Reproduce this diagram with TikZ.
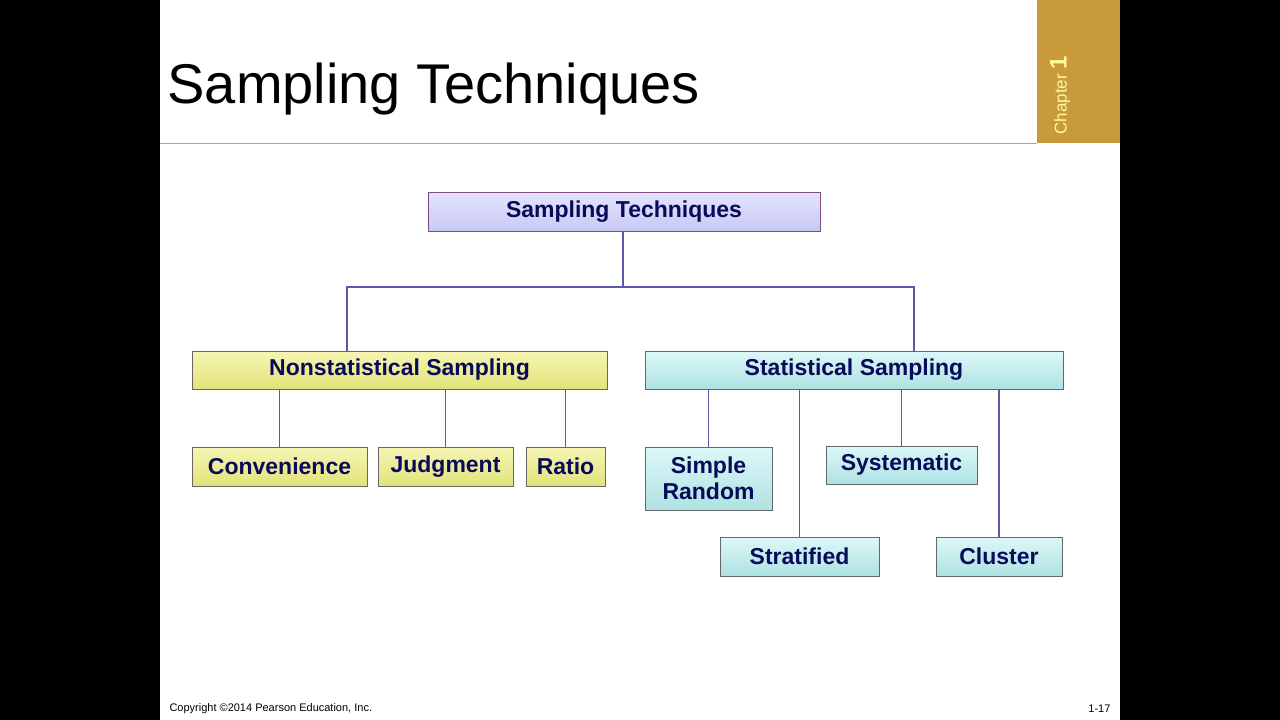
\documentclass[tikz,border=0pt]{standalone}
\usepackage{fontspec}
\setmainfont{Liberation Sans}
\definecolor{navy}{HTML}{0A0A5A}
\definecolor{ln}{HTML}{5A5AA6}
\definecolor{gold}{HTML}{C89A3C}
\definecolor{y1}{HTML}{F6F6B4}
\definecolor{y2}{HTML}{E2E27A}
\definecolor{c1}{HTML}{DDF8F8}
\definecolor{c2}{HTML}{AEE2E2}
\definecolor{p1}{HTML}{E4E4FF}
\definecolor{p2}{HTML}{C8C8F4}
\begin{document}
\begin{tikzpicture}[x=1pt,y=-1pt,
 bx/.style={draw=black!60,line width=1pt,font=\bfseries\fontsize{23}{26}\selectfont,text=navy,align=center,inner sep=0pt},
 yb/.style={bx,top color=y1,bottom color=y2},
 cb/.style={bx,top color=c1,bottom color=c2},
 pb/.style={bx,draw=violet!40!gray,top color=p1,bottom color=p2},
 con/.style={ln,line width=1.8pt}]
\fill[black] (0,0) rectangle (1280,720);
\fill[white] (160,0) rectangle (1120,720);
\fill[gold] (1037,0) rectangle (1120,143);
\draw[black!35,line width=1pt] (160,143) -- (1037,143);
\node[anchor=west,font=\fontsize{56}{60}\selectfont] (title) at (164,89) {Sampling Techniques};
\node[rotate=90,anchor=west,text=yellow!40!white,font=\fontsize{17}{19}\selectfont] (ch) at (1060,138) {Chapter \textbf{\fontsize{24}{24}\selectfont 1}};
\node[anchor=west,font=\fontsize{11}{12}\selectfont] (copy) at (166,709) {Copyright ©2014 Pearson Education, Inc.};
\node[anchor=east,font=\fontsize{11}{12}\selectfont] (pg) at (1114,709) {1-17};
% boxes
\node[pb,minimum width=392,minimum height=39] (top) at (624,211.5) {Sampling Techniques};
\node[yb,minimum width=415,minimum height=38] (ns) at (399.5,370) {Nonstatistical Sampling};
\node[cb,minimum width=418,minimum height=38] (st) at (854,370) {Statistical Sampling};
\node[yb,minimum width=175,minimum height=39] (conv) at (279.5,466.5) {Convenience};
\node[yb,minimum width=135,minimum height=39] (jud) at (445.5,466.5) {Judgment};
\node[yb,minimum width=79,minimum height=39] (rat) at (565.5,466.5) {Ratio};
\node[cb,minimum width=127,minimum height=63] (sr) at (708.5,478.5) {Simple\\Random};
\node[cb,minimum width=151,minimum height=38] (sys) at (901.5,465) {Systematic};
\node[cb,minimum width=159,minimum height=39] (strat) at (799.5,556.5) {Stratified};
\node[cb,minimum width=126,minimum height=39] (clu) at (999,556.5) {Cluster};
% connectors
\coordinate (j) at (623,287);
\draw[con] (top.south -| j) -- (j);
\draw[con] (ns.north -| 347,0) |- (j) -| (st.north -| 914,0);
\draw[con] (ns.south -| conv) -- (conv.north);
\draw[con] (ns.south -| jud) -- (jud.north);
\draw[con] (ns.south -| rat) -- (rat.north);
\draw[con] (st.south -| sr) -- (sr.north);
\draw[con] (st.south -| sys) -- (sys.north);
\draw[con] (st.south -| strat) -- (strat.north);
\draw[con] (st.south -| clu) -- (clu.north);
\end{tikzpicture}
\end{document}
